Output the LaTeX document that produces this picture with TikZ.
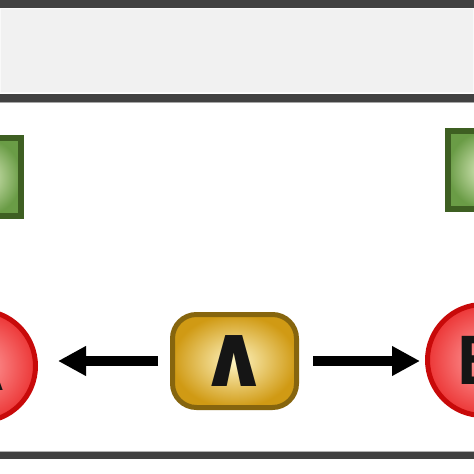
\documentclass[tikz,border=0pt]{standalone}
\usepackage{fontspec}
\setmainfont{Liberation Sans}
\newfontfamily\symfont{DejaVu Sans}
\usetikzlibrary{arrows.meta}
\definecolor{barcol}{HTML}{414141}
\definecolor{panelcol}{HTML}{F1F1F1}
\definecolor{redborder}{HTML}{C80A0A}
\definecolor{redin}{HTML}{FFA0A0}
\definecolor{redout}{HTML}{EC3636}
\definecolor{goldborder}{HTML}{86650E}
\definecolor{goldin}{HTML}{FFF6C4}
\definecolor{goldout}{HTML}{D09A14}
\definecolor{greenborder}{HTML}{3E5F22}
\definecolor{greenin}{HTML}{E4F2C8}
\definecolor{greenout}{HTML}{6A9C46}
\definecolor{inkcol}{HTML}{151515}
\tikzset{
  varcircle/.style={circle, draw=redborder, line width=5pt, inner sep=0pt,
    minimum size=111pt, inner color=redin, outer color=redout, shade,
    text=inkcol, font=\bfseries\fontsize{70}{70}\selectfont},
  opbox/.style={rectangle, rounded corners=24pt, draw=goldborder, line width=5pt,
    inner sep=0pt, minimum width=124pt, minimum height=93pt,
    inner color=goldin, outer color=goldout, shade,
    text=inkcol, font=\symfont\bfseries\fontsize{88}{88}\selectfont},
  greensq/.style={rectangle, draw=greenborder, line width=6pt, inner sep=0pt,
    minimum size=78pt, inner color=greenin, outer color=greenout, shade},
  arr/.style={-{Triangle[length=28pt,width=28pt]}, line width=9.5pt, draw=black},
  bar/.style={fill=barcol, draw=none}
}
\begin{document}
\begin{tikzpicture}[x=1pt,y=-1pt]
\useasboundingbox (0,0) rectangle (474,474);
\clip (0,0) rectangle (474,474);
\fill[white] (0,0) rectangle (474,474);
% top bars and panel
\fill[bar] (0,0) rectangle (474,7.5);
\fill[panelcol] (0,7.5) rectangle (474,93);
\draw[white!60!panelcol, line width=1.2pt] (0.6,8.2) rectangle (473.4,92.3);
\fill[bar] (0,93.5) rectangle (474,102);
\fill[gray!70] (0,102) rectangle (474,103);
% bottom bar
\fill[gray!60] (0,450.8) rectangle (474,451.6);
\fill[bar] (0,451.6) rectangle (474,459);
% green squares
\node[greensq] (gl) at (-18,177) {};
\node[greensq] (gr) at (487,170) {};
% nodes
\node[varcircle] (A) at (-20,366) {A};
\node[varcircle] (B) at (483,360) {B};
\node[opbox] (and) at (234.5,361) {∧};
% connectors
\draw[arr, shorten <=12pt, shorten >=20pt] (and.west) -- (and.west -| A.east);
\draw[arr, shorten <=14pt, shorten >=5pt] (and.east) -- (and.east -| B.west);
\end{tikzpicture}
\end{document}
